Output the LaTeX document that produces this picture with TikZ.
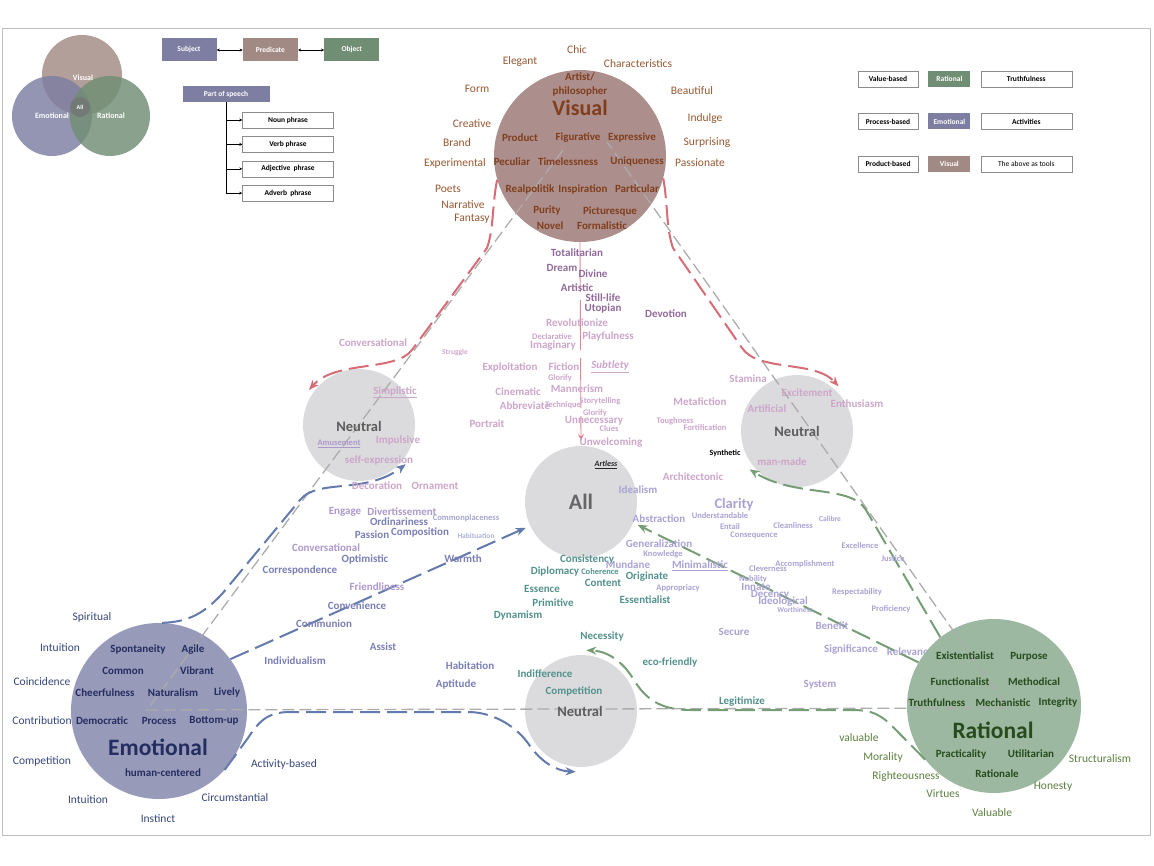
\documentclass[tikz,border=0pt]{standalone}
\usepackage{fontspec}
\setmainfont{Carlito}
\usetikzlibrary{positioning,arrows.meta}

\definecolor{visfill}{RGB}{172,142,140}
\definecolor{emofill}{RGB}{152,154,186}
\definecolor{ratfill}{RGB}{156,184,160}
\definecolor{neufill}{RGB}{219,219,221}
\definecolor{visdark}{RGB}{128,62,28}
\definecolor{visout}{RGB}{150,88,50}
\definecolor{purpdark}{RGB}{145,105,155}
\definecolor{pinklight}{RGB}{205,165,202}
\definecolor{bluemid}{RGB}{122,126,182}
\definecolor{lavlight}{RGB}{172,152,205}
\definecolor{lavright}{RGB}{168,162,212}
\definecolor{tealw}{RGB}{82,145,140}
\definecolor{emodark}{RGB}{35,45,95}
\definecolor{emoout}{RGB}{55,70,122}
\definecolor{ratdark}{RGB}{38,75,28}
\definecolor{ratout}{RGB}{92,128,62}
\definecolor{arrred}{RGB}{214,108,118}
\definecolor{arrblue}{RGB}{98,122,172}
\definecolor{arrgreen}{RGB}{118,158,118}
\definecolor{linegrey}{RGB}{172,172,172}
\definecolor{neutext}{RGB}{92,92,92}
\definecolor{subjfill}{RGB}{125,126,162}
\definecolor{predfill}{RGB}{162,138,132}
\definecolor{objfill}{RGB}{112,142,116}

\begin{document}
\begin{tikzpicture}[x=1pt,y=-1pt,>=stealth,
    blob/.style={circle,inner sep=0pt,minimum size=#1},
    word/.style={inner sep=0pt,font=\bfseries\fontsize{11}{12}\selectfont},
    plainw/.style={inner sep=0pt,font=\fontsize{11.5}{12}\selectfont},
    smallw/.style={inner sep=0pt,font=\bfseries\fontsize{8.5}{9}\selectfont},
    tinyw/.style={inner sep=0pt,font=\bfseries\fontsize{7.5}{8}\selectfont},
    bigw/.style={inner sep=0pt,font=\bfseries\fontsize{23.5}{26}\selectfont},
    neu/.style={inner sep=0pt,text=neutext,font=\bfseries\fontsize{14.5}{16}\selectfont},
    flow/.style={line width=2pt,dash pattern=on 20pt off 7pt,-{Stealth[length=10pt,width=8pt]}},
    greyline/.style={draw=linegrey,line width=1.3pt,dash pattern=on 12pt off 5pt},
    legbox/.style={draw=black!45,fill=white,minimum width=#1,minimum height=16pt,inner sep=0pt,font=\bfseries\fontsize{7.5}{8}\selectfont},
    tagbox/.style={fill=#1,text=white,minimum height=16pt,inner sep=0pt,font=\bfseries\fontsize{7.5}{8}\selectfont},
    vennc/.style={circle,fill=#1,fill opacity=0.82,minimum size=80pt,inner sep=0pt},
    vennl/.style={text=white,font=\bfseries\fontsize{8}{9}\selectfont,inner sep=0pt}]
  \useasboundingbox (0,0) rectangle (1154,866);
  \draw[black!25,line width=0.8pt] (2,28) rectangle (1150,835);

  \node[word,text=lavright] (relev) at (910,652) {Relevance};

  % the seven circles
  \node[blob=172pt,fill=visfill] (vis) at (580,156) {};
  \node[blob=176pt,fill=emofill] (emo) at (159,711) {};
  \node[blob=174pt,fill=ratfill] (rat) at (994,706) {};
  \node[blob=112pt,fill=neufill,outer sep=5pt] (nl) at (359,425) {};
  \node[blob=112pt,fill=neufill,outer sep=5pt] (nr) at (797,431) {};
  \node[blob=112pt,fill=neufill,outer sep=5pt] (nb) at (581,711) {};
  \node[blob=112pt,fill=neufill,outer sep=5pt] (all) at (581,502) {};

  % grey triangle
  \coordinate (vl) at (563,150);
  \coordinate (vr) at (607,142);
  \coordinate (ec) at (147,710);
  \coordinate (rc) at (1008,708);
  \draw[greyline] (vl) -- (ec) -- (rc) -- (vr);

  % flows
  \draw[flow,draw=arrred] (vis.196) .. controls (492,205) and (494,228) .. (487,248)
    -- (412,350) .. controls (395,372) and (335,360) .. (nl.145);
  \draw[flow,draw=arrred] (vis.-15) .. controls (668,205) and (666,228) .. (673,248)
    -- (742,348) .. controls (758,372) and (815,360) .. (nr.47);
  \draw[draw=arrred!80,line width=0.9pt,dash pattern=on 50pt off 8pt,-{Stealth[length=7pt,width=6pt]}] (vis.-90) -- (all.90);
  \draw[flow,draw=arrblue] (emo.88) .. controls (190,622) and (205,612) .. (222,594)
    -- (300,500) .. controls (318,478) and (365,495) .. (nl.-40);
  \draw[flow,draw=arrblue] (emo.36) -- (all.205);
  \draw[flow,draw=arrblue] (emo.-42) -- (248,738) .. controls (262,716) and (272,712) .. (292,712)
    -- (470,712) .. controls (496,713) and (518,728) .. (530,746)
    .. controls (543,764) and (558,771) .. (nb.-95);
  \draw[flow,draw=arrgreen] (rat.128) -- (866,510) .. controls (850,484) and (795,498) .. (nr.219);
  \draw[flow,draw=arrgreen] (rat.150) -- (all.-22);
  \draw[flow,draw=arrgreen] (rat.218) -- (890,724) .. controls (876,711) and (866,710) .. (850,710)
    -- (690,710) .. controls (662,710) and (646,700) .. (634,680)
    .. controls (622,660) and (606,651) .. (nb.85);

  % circle titles
  \node[inner sep=0pt,text=visdark,align=center,font=\bfseries\fontsize{11}{14}\selectfont] (artist) at (580,85) {Artist/\\philosopher};
  \node[inner sep=0pt,text=visdark,font=\bfseries\fontsize{22}{24}\selectfont] (vistitle) at (580,108) {Visual};
  \node[bigw,text=emodark] (emotitle) at (158,747) {Emotional};
  \node[bigw,text=ratdark] (rattitle) at (993,730) {Rational};
  \node[neu] (nltitle) at (359,426) {Neutral};
  \node[neu] (nrtitle) at (797,431) {Neutral};
  \node[neu] (nbtitle) at (580,711) {Neutral};
  \node[inner sep=0pt,text=black!60,font=\bfseries\fontsize{22}{24}\selectfont] (alltitle) at (581,502) {All};

  % words
  \foreach \x/\y/\w [count=\i] in {520/138/Product, 578/138/Figurative, 632/138/Expressive,
      512/162/Peculiar, 568/162/Timelessness, 637/162/Uniqueness, 530/189/Realpolitik,
      583/189/Inspiration, 637/189/Particular, 547/211/Purity, 610/212/Picturesque,
      550/226/Novel, 602/226/Formalistic}
    \node[word,text=visdark] (vi\i) at (\x,\y) {\w};
  \foreach \x/\y/\w [count=\i] in {577/50/Chic, 520/62/Elegant, 638/64/Characteristics,
      477/89/Form, 692/91/Beautiful, 472/124/Creative, 705/118/Indulge, 457/143/Brand,
      707/143/Surprising, 455/163/Experimental, 700/163/Passionate, 448/189/Poets,
      463/205/Narrative, 472/219/Fantasy}
    \node[plainw,text=visout] (vo\i) at (\x,\y) {\w};
  \foreach \x/\y/\w [count=\i] in {577/253/Totalitarian, 562/268/Dream, 593/274/Divine,
      577/288/Artistic, 603/298/Still-life, 603/309/Utopian, 666/314/Devotion}
    \node[word,text=purpdark] (pd\i) at (\x,\y) {\w};
  \foreach \x/\y/\w [count=\i] in {577/323/Revolutionize, 608/337/Playfulness, 553/346/Imaginary,
      510/367/Exploitation, 564/367/Fiction, 518/392/Cinematic, 577/389/Mannerism,
      525/406/Abbreviate, 487/424/Portrait, 594/421/Unnecessary, 611/443/Unwelcoming,
      373/343/Conversational, 398/441/Impulsive, 379/461/self-expression, 377/486/Decoration,
      435/486/Ornament, 748/379/Stamina, 807/393/Excitement, 857/404/Enthusiasm,
      767/409/Artificial, 782/462/man-made, 700/402/Metafiction, 693/477/Architectonic,
      395/392/\underline{Simplistic}}
    \node[word,text=pinklight] (pl\i) at (\x,\y) {\w};
  \foreach \x/\y/\w [count=\i] in {552/337/Declarative, 560/378/Glorify, 563/405/Technique,
      600/401/Storytelling, 595/413/Glorify, 609/429/Clues, 675/421/Toughness,
      705/428/Fortification}
    \node[smallw,text=pinklight] (ps\i) at (\x,\y) {\w};
  \node[tinyw,text=pinklight] (strug) at (455,353) {Struggle};
  \node[word,text=pinklight,font=\bfseries\itshape\fontsize{11}{12}\selectfont] (subtle) at (610,367) {\underline{Subtlety}};
  \node[smallw,text=lavlight] (amuse) at (339,444) {\underline{Amusement}};
  \node[smallw,text=black!85,font=\bfseries\itshape\fontsize{8}{9}\selectfont] (artless) at (606,465) {\underline{Artless}};
  \node[smallw,text=black,font=\bfseries\fontsize{8}{9}\selectfont] (synth) at (725,453) {Synthetic};
  \foreach \x/\y/\w [count=\i] in {345/512/Engage, 402/512/Divertissement,
      326/548/Conversational, 377/587/Friendliness}
    \node[word,text=lavlight] (ll\i) at (\x,\y) {\w};
  \foreach \x/\y/\w [count=\i] in {399/522/Ordinariness, 372/535/Passion, 420/532/Composition,
      365/559/Optimistic, 463/559/Warmth, 300/571/Correspondence, 357/606/Convenience,
      324/624/Communion, 383/647/Assist, 295/661/Individualism, 470/666/Habitation,
      456/684/Aptitude}
    \node[word,text=bluemid] (bm\i) at (\x,\y) {\w};
  \node[smallw,text=bluemid!70] (complace) at (466,518) {Commonplaceness};
  \node[tinyw,text=bluemid!60] (habit) at (476,536) {Habituation};
  \foreach \x/\y/\w [count=\i] in {587/560/Consistency, 555/572/Diplomacy, 603/583/Content,
      647/577/Originate, 542/589/Essence, 553/603/Primitive, 645/600/Essentialist,
      518/616/Dynamism, 602/637/Necessity, 670/663/eco-friendly, 545/674/Indifference,
      574/691/Competition, 742/702/Legitimize}
    \node[word,text=tealw] (tw\i) at (\x,\y) {\w};
  \node[smallw,text=tealw] (coher) at (600,572) {Coherence};
  \foreach \x/\y/\w [count=\i] in {638/490/Idealism, 659/519/Abstraction, 659/544/Generalization,
      628/565/Mundane, 756/587/Innate, 770/595/Decency, 783/602/Ideological, 832/626/Benefit,
      734/632/Secure, 851/650/Significance, 820/685/System, 700/566/\underline{Minimalistic}}
    \node[word,text=lavright] (lr\i) at (\x,\y) {\w};
  \node[word,text=lavright,font=\bfseries\fontsize{14.5}{16}\selectfont] (clarity) at (734,505) {Clarity};
  \foreach \x/\y/\w [count=\i] in {720/516/Understandable, 730/527/Entail, 754/535/Consequence,
      793/526/Cleanliness, 663/554/Knowledge, 678/588/Appropriacy, 805/564/Accomplishment,
      768/569/Cleverness, 860/546/Excellence, 893/559/Justice, 753/579/Nobility,
      857/592/Respectability, 891/609/Proficiency}
    \node[smallw,text=lavright] (ls\i) at (\x,\y) {\w};
  \node[tinyw,text=lavright] (calib) at (830,519) {Calibre};
  \node[tinyw,text=lavright] (worth) at (795,610) {Worthiness};
  \foreach \x/\y/\w [count=\i] in {138/650/Spontaneity, 193/650/Agile, 123/671/Common,
      197/671/Vibrant, 105/693/Cheerfulness, 173/693/Naturalism, 227/693/Lively,
      102/721/Democratic, 159/721/Process, 214/721/Bottom-up, 163/773/human-centered}
    \node[word,text=emodark] (ei\i) at (\x,\y) {\w};
  \foreach \x/\y/\w [count=\i] in {92/617/Spiritual, 60/648/Intuition, 42/682/Coincidence,
      42/721/Contribution, 42/761/Competition, 284/764/Activity-based, 88/800/Intuition,
      235/798/Circumstantial, 158/819/Instinct}
    \node[plainw,text=emoout] (eo\i) at (\x,\y) {\w};
  \foreach \x/\y/\w [count=\i] in {965/656/Existentialist, 1029/657/Purpose,
      960/682/Functionalist, 1034/682/Methodical, 937/703/Truthfulness, 1003/703/Mechanistic,
      1058/703/Integrity, 961/754/Practicality, 1031/754/Utilitarian, 997/774/Rationale}
    \node[word,text=ratdark] (ri\i) at (\x,\y) {\w};
  \foreach \x/\y/\w [count=\i] in {859/738/valuable, 883/757/Morality, 1100/759/Structuralism,
      906/776/Righteousness, 1053/787/Honesty, 943/794/Virtues, 992/813/Valuable}
    \node[plainw,text=ratout] (ro\i) at (\x,\y) {\w};

  % legend, top left
  \node[vennc=predfill] (vvis) at (82,75) {};
  \node[vennc=subjfill] (vemo) at (52,116) {};
  \node[vennc=objfill] (vrat) at (110,116) {};
  \node[circle,fill=black!55,fill opacity=0.75,minimum size=20pt,inner sep=0pt] (vall) at (80,107) {};
  \node[vennl] (vvisl) at (83,78) {Visual};
  \node[vennl] (vemol) at (52,116) {Emotional};
  \node[vennl] (vratl) at (111,116) {Rational};
  \node[vennl,font=\bfseries\fontsize{6}{7}\selectfont] (valll) at (80,107) {All};
  \node[tagbox=subjfill,minimum width=55pt,minimum height=23pt] (subj) at (189,50) {Subject};
  \node[tagbox=predfill,minimum width=55pt,minimum height=23pt,right=26pt of subj] (pred) {Predicate};
  \node[tagbox=objfill,minimum width=55pt,minimum height=23pt,right=26pt of pred] (obj) {Object};
  \draw[{Stealth[length=3pt,width=3pt]}-{Stealth[length=3pt,width=3pt]},line width=0.5pt] (subj) -- (pred);
  \draw[{Stealth[length=3pt,width=3pt]}-{Stealth[length=3pt,width=3pt]},line width=0.5pt] (pred) -- (obj);
  \node[tagbox=subjfill,minimum width=87pt] (pos) at (226,94) {Part of speech};
  \node[legbox=91pt] (np) at (288,120) {Noun phrase};
  \node[legbox=91pt,below=8pt of np] (vp) {Verb phrase};
  \node[legbox=91pt,below=8pt of vp] (ajp) {Adjective\ \ phrase};
  \node[legbox=91pt,below=8pt of ajp] (avp) {Adverb\ \ phrase};
  \foreach \b in {np,vp,ajp,avp}
    \draw[-{Stealth[length=3pt,width=3pt]},line width=0.5pt] (pos.south) |- (\b.west);

  % legend, top right
  \node[legbox=60pt] (valb) at (888,79) {Value-based};
  \node[legbox=60pt,below=26pt of valb] (procb) {Process-based};
  \node[legbox=60pt,below=26pt of procb] (prodb) {Product-based};
  \node[tagbox=objfill,minimum width=42pt,right=10pt of valb] (tagrat) {Rational};
  \node[tagbox=subjfill,minimum width=42pt,right=10pt of procb] (tagemo) {Emotional};
  \node[tagbox=predfill,minimum width=42pt,right=10pt of prodb] (tagvis) {Visual};
  \node[legbox=91pt,right=10pt of tagrat] (truth) {Truthfulness};
  \node[legbox=91pt,right=10pt of tagemo] (activ) {Activities};
  \node[legbox=91pt,right=10pt of tagvis,font=\fontsize{7.5}{8}\selectfont] (tools) {The above as tools};
\end{tikzpicture}
\end{document}
